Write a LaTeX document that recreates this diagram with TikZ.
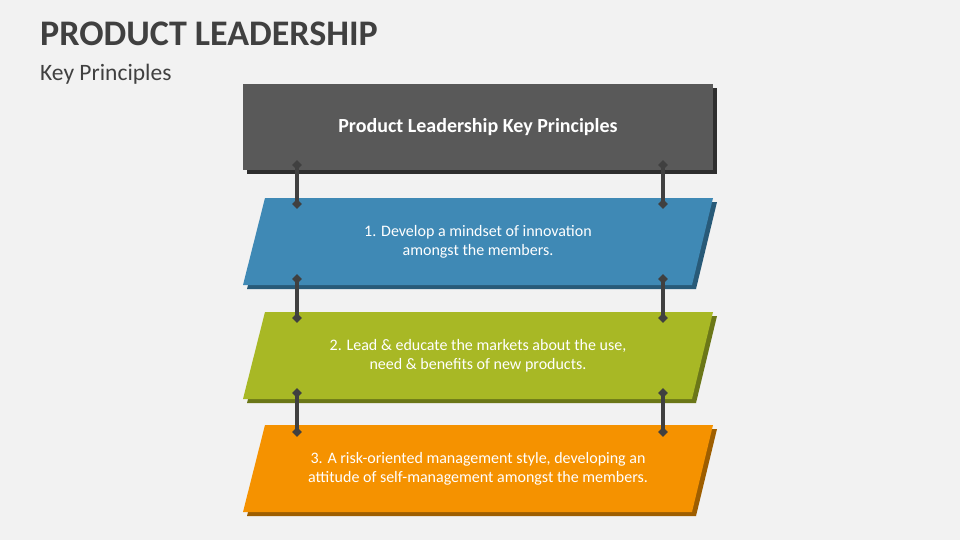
\documentclass[tikz,border=0pt]{standalone}
\usepackage{fontspec}
\setmainfont{Carlito}
\usetikzlibrary{shapes.geometric}
\definecolor{bg}{HTML}{F2F2F2}
\definecolor{dk}{HTML}{404040}
\definecolor{hdr}{HTML}{595959}
\definecolor{hdrsh}{HTML}{2E2E2E}
\definecolor{cblue}{HTML}{3F89B5}
\definecolor{cbluesh}{HTML}{285A78}
\definecolor{cgreen}{HTML}{A8B825}
\definecolor{cgreensh}{HTML}{6B7718}
\definecolor{corange}{HTML}{F59200}
\definecolor{corangesh}{HTML}{9E5E00}
\tikzset{
  dia/.style={diamond, fill=dk, inner sep=0pt, minimum size=10pt},
  conn/.style={draw=dk, line width=3.2pt},
  itemtext/.style={text=white, align=center, font=\fontsize{16}{19}\selectfont},
}
\begin{document}
\begin{tikzpicture}[x=1pt,y=-1pt]
\fill[bg] (0,0) rectangle (960,540);
\useasboundingbox (0,0) rectangle (960,540);
% titles
\node[anchor=base west, inner sep=0pt, text=dk, font=\fontsize{36}{40}\selectfont\bfseries] (title) at (40,46) {PRODUCT LEADERSHIP};
\node[anchor=base west, inner sep=0pt, text=dk, font=\fontsize{23.5}{26}\selectfont] (subtitle) at (40,81) {Key Principles};
% header box
\fill[hdrsh] (247,88) rectangle (717,174);
\fill[hdr] (243,84) rectangle (713,170);
\node[text=white, font=\fontsize{20}{24}\selectfont\bfseries] (hdrtext) at (478,127.5) {Product Leadership Key Principles};
% parallelograms
\foreach \yt/\c/\s in {198/cblue/cbluesh, 312/cgreen/cgreensh, 425/corange/corangesh}{
  \fill[\s] (265+4,\yt+4) -- (713+4,\yt+4) -- (692+4,\yt+87+4) -- (243+4,\yt+87+4) -- cycle;
  \fill[\c] (265,\yt) -- (713,\yt) -- (692,\yt+87) -- (243,\yt+87) -- cycle;
}
\node[itemtext] (t1) at (478,242) {1. Develop a mindset of innovation\\amongst the members.};
\node[itemtext] (t2) at (478,356) {2. Lead \& educate the markets about the use,\\need \& benefits of new products.};
\node[itemtext] (t3) at (478,469) {3. A risk-oriented management style, developing an\\attitude of self-management amongst the members.};
% diamonds
\node[dia] (l0) at (297,165) {};
\node[dia] (r0) at (663,165) {};
\node[dia] (l1) at (297,204) {};
\node[dia] (r1) at (663,204) {};
\node[dia] (l2) at (297,279) {};
\node[dia] (r2) at (663,279) {};
\node[dia] (l3) at (297,318) {};
\node[dia] (r3) at (663,318) {};
\node[dia] (l4) at (297,393) {};
\node[dia] (r4) at (663,393) {};
\node[dia] (l5) at (297,432) {};
\node[dia] (r5) at (663,432) {};
\draw[conn] (l0.center) -- (l1.center);
\draw[conn] (r0.center) -- (r1.center);
\draw[conn] (l2.center) -- (l3.center);
\draw[conn] (r2.center) -- (r3.center);
\draw[conn] (l4.center) -- (l5.center);
\draw[conn] (r4.center) -- (r5.center);
\end{tikzpicture}
\end{document}
